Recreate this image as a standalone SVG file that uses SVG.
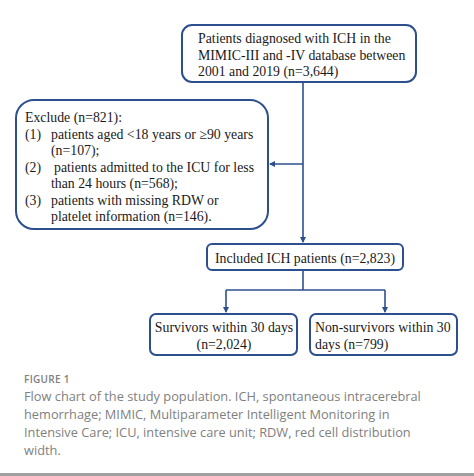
<svg xmlns="http://www.w3.org/2000/svg" width="474" height="476" viewBox="0 0 474 476">
<defs>
<marker id="ah" markerWidth="6" markerHeight="6" refX="5" refY="3" orient="auto" markerUnits="userSpaceOnUse">
<path d="M0,0 L6,3 L0,6 Z" fill="#2d4f8e"/>
</marker>
</defs>
<style>
.box{fill:#fff;stroke:#2d4f8e;stroke-width:2}
.t{font-family:"Liberation Serif","Times New Roman",serif;font-size:13.8px;fill:#1a1a1a}
.ln{fill:none;stroke:#2d4f8e;stroke-width:1.6}
.cap{font-family:"Open Sans","Lato",sans-serif;fill:#808080}
</style>
<rect width="474" height="476" fill="#fff"/>
<g id="connectors">
<path class="ln" d="M303,82 V242" marker-end="url(#ah)"/>
<path class="ln" d="M303,164 H270" marker-end="url(#ah)"/>
<path class="ln" d="M303,270 V290"/>
<path class="ln" d="M226,290 H385"/>
<path class="ln" d="M226,290 V312" marker-end="url(#ah)"/>
<path class="ln" d="M385,290 V312" marker-end="url(#ah)"/>
</g>
<g id="node-top">
<rect class="box" x="182" y="25" width="234" height="57" rx="10"/>
<text class="t" x="198" y="43">Patients diagnosed with ICH in the</text>
<text class="t" x="198" y="59.5">MIMIC-III and -IV database between</text>
<text class="t" x="198" y="76">2001 and 2019 (n=3,644)</text>
</g>
<g id="node-exclude">
<rect class="box" x="16" y="100" width="252" height="129" rx="18"/>
<text class="t" x="25" y="122">Exclude (n=821):</text>
<text class="t" x="25" y="138.5">(1)</text>
<text class="t" x="51" y="138.5">patients aged &lt;18 years or ≥90 years</text>
<text class="t" x="51" y="155">(n=107);</text>
<text class="t" x="25" y="171.5">(2)</text>
<text class="t" x="54" y="171.5">patients admitted to the ICU for less</text>
<text class="t" x="51" y="188">than 24 hours (n=568);</text>
<text class="t" x="25" y="204.5">(3)</text>
<text class="t" x="51" y="204.5">patients with missing RDW or</text>
<text class="t" x="51" y="221">platelet information (n=146).</text>
</g>
<g id="node-included">
<rect class="box" x="207" y="244" width="196" height="26" rx="5"/>
<text class="t" x="305" y="262.5" text-anchor="middle">Included ICH patients (n=2,823)</text>
</g>
<g id="node-survivors">
<rect class="box" x="150" y="314" width="147" height="41" rx="6"/>
<text class="t" x="224" y="332" text-anchor="middle">Survivors within 30 days</text>
<text class="t" x="224" y="348.5" text-anchor="middle">(n=2,024)</text>
</g>
<g id="node-nonsurvivors">
<rect class="box" x="310" y="314" width="147" height="41" rx="6"/>
<text class="t" x="315" y="332">Non-survivors within 30</text>
<text class="t" x="315" y="348.5">days (n=799)</text>
</g>
<g id="caption">
<text class="cap" x="24" y="383" font-size="10" font-weight="600" letter-spacing="0.3">FIGURE 1</text>
<text class="cap" x="24" y="401" font-size="12.8">Flow chart of the study population. ICH, spontaneous intracerebral</text>
<text class="cap" x="24" y="419" font-size="12.8">hemorrhage; MIMIC, Multiparameter Intelligent Monitoring in</text>
<text class="cap" x="24" y="437" font-size="12.8">Intensive Care; ICU, intensive care unit; RDW, red cell distribution</text>
<text class="cap" x="24" y="455" font-size="12.8">width.</text>
</g>
<rect x="0" y="473" width="474" height="3" fill="#a0a0a0"/>
</svg>
